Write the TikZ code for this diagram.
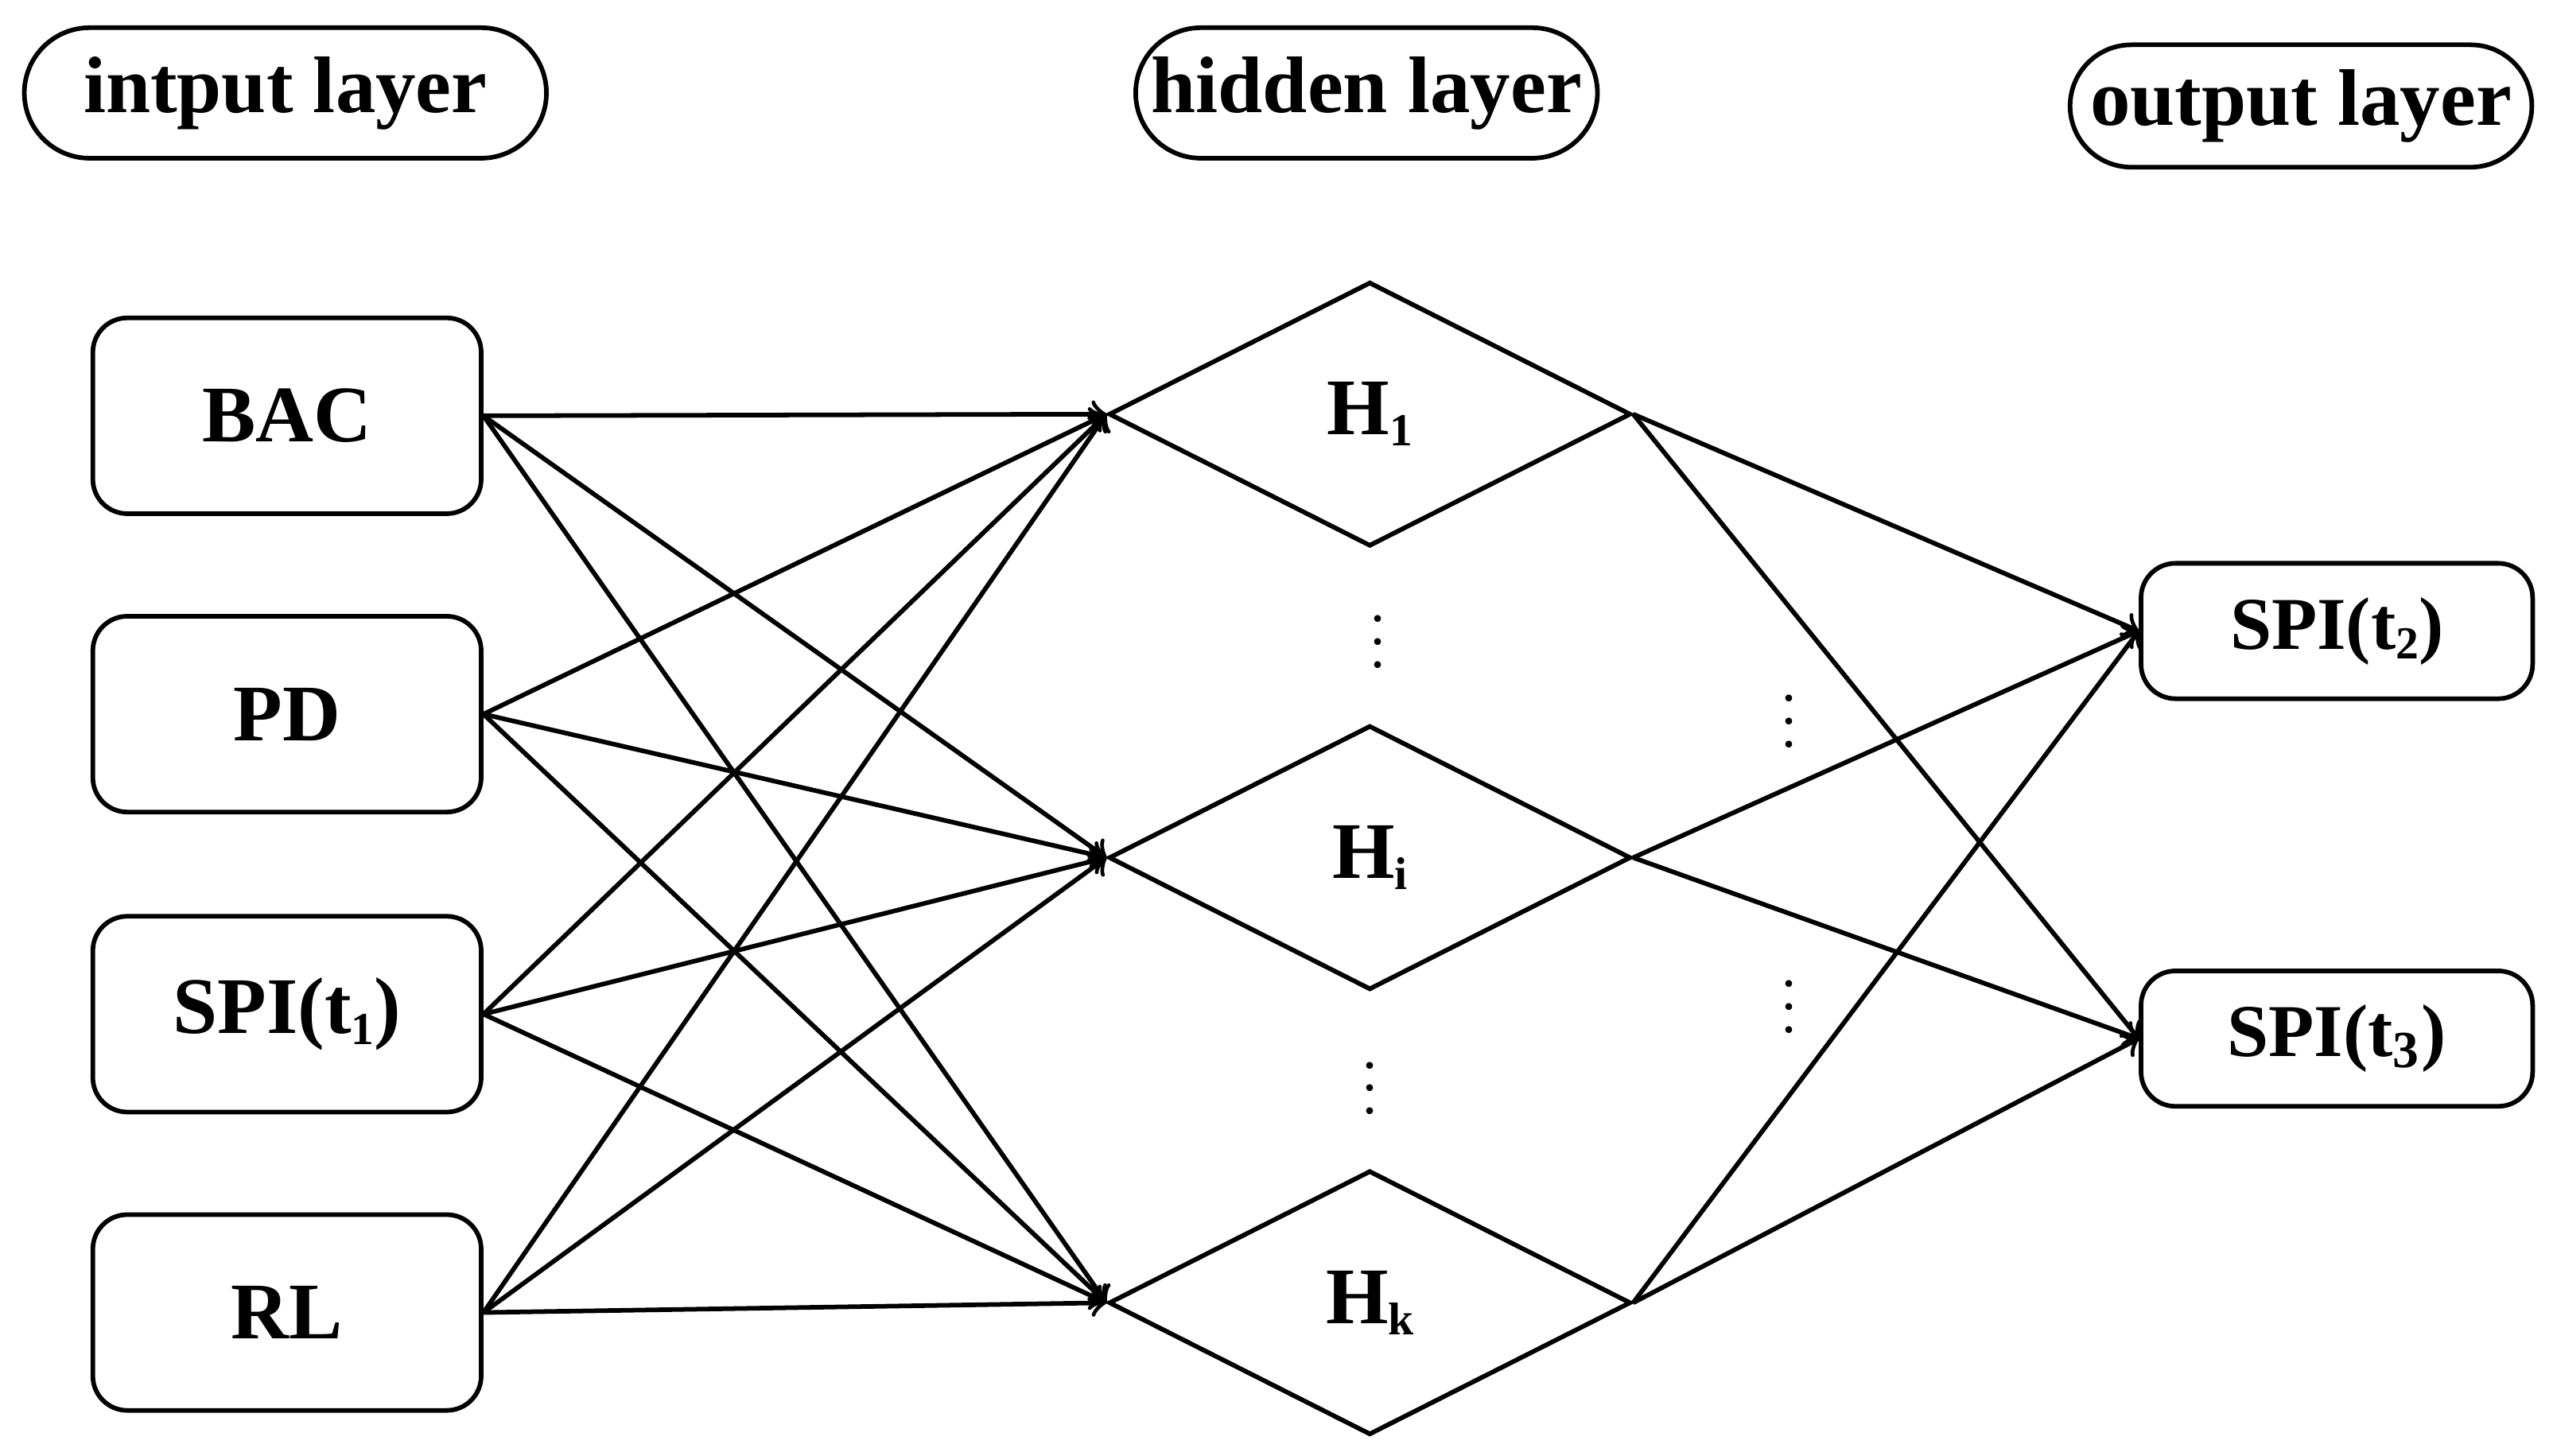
\documentclass[tikz,border=0pt]{standalone}
\usepackage{fontspec}
\setmainfont{Liberation Serif}
\usetikzlibrary{shapes.geometric,shapes.misc}
\tikzset{layer/.style={draw=black, rounded rectangle, minimum width=3.2cm, minimum height=0.8cm, inner sep=0pt, font=\fontsize{14}{14}\selectfont\bfseries},
	box/.style={draw=black, rounded corners=6pt, minimum width=2.38cm, minimum height=1.2cm, font=\fontsize{14}{14}\selectfont\bfseries},
	outbox/.style={draw=black, rounded corners=6pt, minimum width=2.4cm, minimum height=0.83cm, font=\fontsize{13}{13}\selectfont\bfseries},
	hid/.style={draw=black, diamond, aspect=2, minimum width=3.2cm, minimum height=1.62cm, inner sep=0pt, font=\fontsize{14}{14}\selectfont\bfseries},
	dots/.style={inner sep=0pt, font=\fontsize{10}{10}\selectfont}}
\newcommand{\lowsub}[1]{\raisebox{-0.3ex}{\fontsize{8}{8}\selectfont #1}}

\begin{document}
\begin{tikzpicture}[x=0.01cm, y=-0.01cm, thick]
		\useasboundingbox (0,0) rectangle (1568,893);
		\node[layer] (L1) at (175,57) {intput layer};
		\node[layer, minimum width=2.83cm] (L2) at (838,57) {hidden layer};
		\node[layer, minimum width=2.83cm, minimum height=0.75cm] (L3) at (1411,65) {output layer};
		
		\node[box] (BAC) at (176,255) {BAC};
		\node[box] (PD) at (176,438) {PD};
		\node[box] (SPI1) at (176,622) {SPI(t\lowsub{1})};
		\node[box] (RL) at (176,805) {RL};
		
		\node[hid] (H1) at (840,254) {H\lowsub{1}};
		\node[hid] (Hi) at (840,526) {H\lowsub{i}};
		\node[hid] (Hk) at (840,799) {H\lowsub{k}};
		
		\node[outbox] (SPI2) at (1433,387) {SPI(t\lowsub{2})};
		\node[outbox] (SPI3) at (1433,637) {SPI(t\textsubscript{3})};
		
		\node[dots] (d1) at (845,383) {$\vdots$};
		\node[dots] (d2) at (840,657) {$\vdots$};
		\node[dots] (d3) at (1097,432) {$\vdots$};
		\node[dots] (d4) at (1097,607) {$\vdots$};
		
		\foreach \a in {BAC,PD,SPI1,RL}
			\foreach \b in {H1,Hi,Hk}
				\draw[->] (\a.east) -- (\b.west);
		\foreach \a in {H1,Hi,Hk}
			\foreach \b in {SPI2,SPI3}
				\draw[->] (\a.east) -- (\b.west);
	\end{tikzpicture}
\end{document}
